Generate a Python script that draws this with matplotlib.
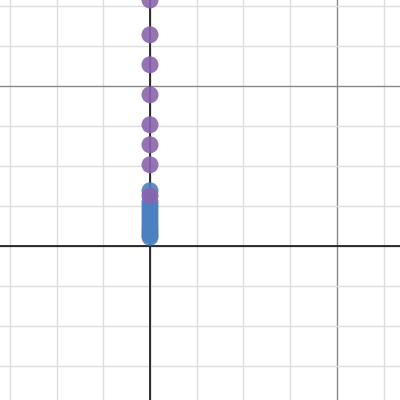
import matplotlib

matplotlib.use("Agg")
import matplotlib.pyplot as plt
import numpy as np

purple_x = [0, 0, 0, 0, 0, 0, 0, 0]
purple_y = [6.15, 5.28, 4.53, 3.78, 3.03, 2.53, 2.03, 1.25]
blue_x = [0] * 12
blue_y = [1.38, 1.1, 1.0, 0.9, 0.8, 0.7, 0.6, 0.5, 0.42, 0.35, 0.28, 0.22]

fig = plt.figure(figsize=(4, 4), dpi=100)
ax = fig.add_axes([0, 0, 1, 1])
ax.set_xlim(-150 / 46.7, 250 / 46.7)
ax.set_ylim(-154 / 40, 246 / 40)

for x in np.arange(-3, 6):
    ax.axvline(x, color="#888888" if x % 4 == 0 else "#dddddd", lw=1.0, zorder=0)
for y in np.arange(-3, 7):
    ax.axhline(y, color="#888888" if y % 4 == 0 else "#dddddd", lw=1.0, zorder=0)
ax.axvline(0, color="#222222", lw=1.3, zorder=1)
ax.axhline(0, color="#222222", lw=1.3, zorder=1)

ax.scatter(blue_x, blue_y, s=150, color="#4d80c0", alpha=0.9, edgecolors="none", zorder=2)
ax.scatter(purple_x, purple_y, s=150, color="#8a64ad", alpha=0.9, edgecolors="none", zorder=3)

ax.set_xticks([])
ax.set_yticks([])
for s in ax.spines.values():
    s.set_visible(False)
fig.savefig("out.png", dpi=100)
